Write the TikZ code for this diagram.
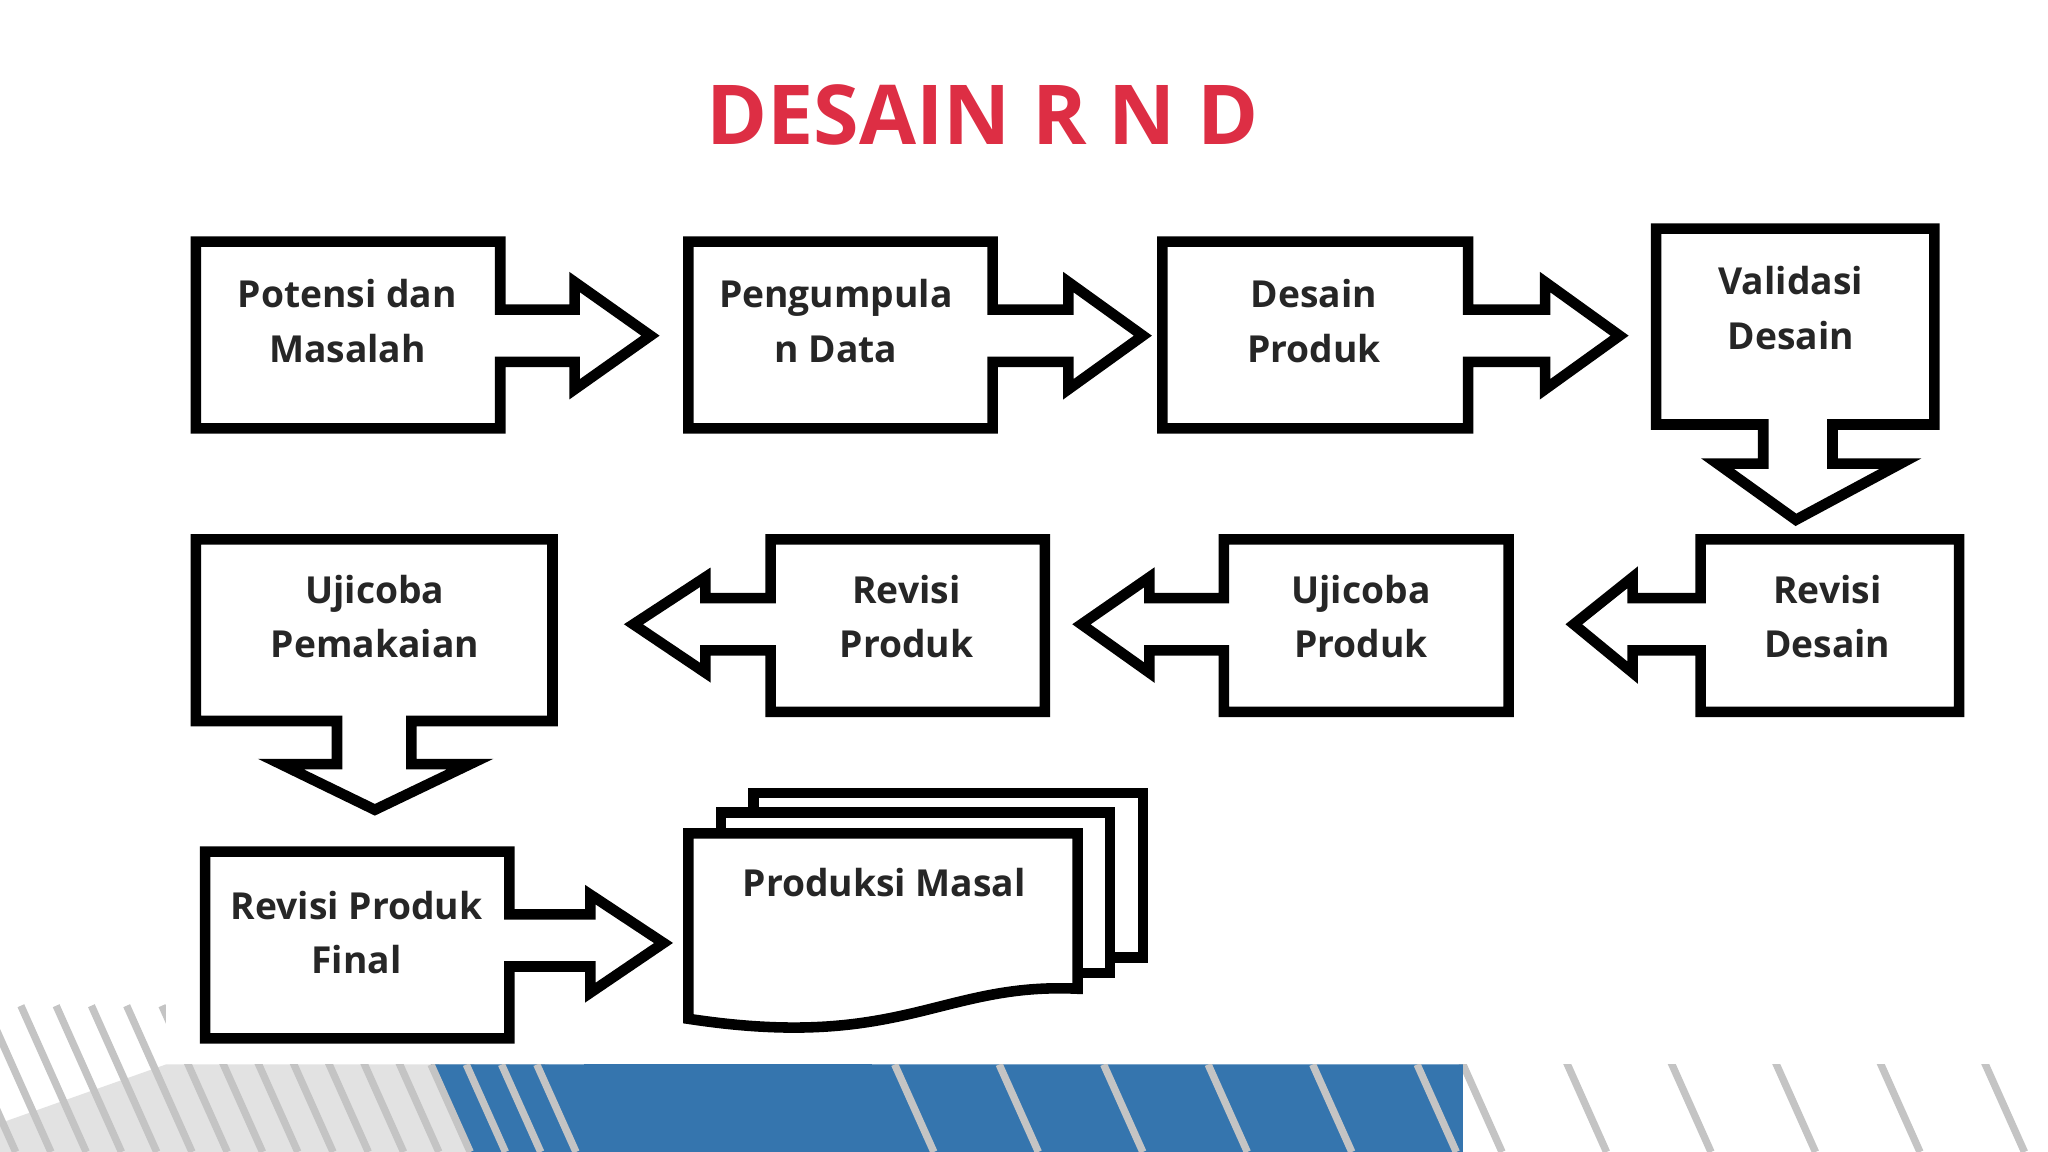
\documentclass[tikz,border=0pt]{standalone}
\usepackage{fontspec}
\setmainfont{Open Sans}
\definecolor{tred}{HTML}{DD2E44}
\definecolor{tblue}{HTML}{3575AE}
\definecolor{sgray}{HTML}{C4C4C4}
\definecolor{lgray}{HTML}{E2E2E2}
\begin{document}
\begin{tikzpicture}[x=0.01cm,y=-0.01cm,
  shp/.style={draw=black,line width=2.3pt,fill=white,line join=miter},
  lbl/.style={font=\fontsize{8.1}{11.9}\selectfont\bfseries,align=center,text=black!85},
  stripe/.style={sgray,line width=1.6pt}]
\useasboundingbox (0,0) rectangle (1568,882);
\fill[white] (0,0) rectangle (1568,882);
% bottom decoration
\fill[lgray] (127,815) -- (420,815) -- (447,882) -- (0,882) -- (0,860) -- cycle;
\foreach \x in {-200,-173,...,420} \draw[stripe] (\x,770) -- (\x+50,882);
\foreach \x in {1100,1180,...,1700} \draw[stripe] (\x,770) -- (\x+50,882);
\fill[tblue] (330,815) -- (1120,815) -- (1120,882) -- (360,882) -- cycle;
\foreach \x in {330,357,...,420} \draw[stripe] (\x,815) -- (\x+30,882);
\foreach \x in {685,765,...,1100} \draw[stripe] (\x,815) -- (\x+30,882);
\fill[tblue] (447,815) rectangle (668,882);
\fill[white] (127,765) rectangle (1524,815);
% title
\node[font=\fontsize{18}{21}\selectfont\bfseries,text=tred] (title) at (752,88) {DESAIN R N D};
% row 1
\draw[shp] (150,185)--(383,185)--(383,237)--(440,237)--(440,216)--(498,257)--(440,298)--(440,277)--(383,277)--(383,328)--(150,328)--cycle;
\draw[shp] (527,185)--(760,185)--(760,237)--(818,237)--(818,216)--(875,257)--(818,298)--(818,277)--(760,277)--(760,328)--(527,328)--cycle;
\draw[shp] (890,185)--(1124,185)--(1124,237)--(1183,237)--(1183,216)--(1240,257)--(1183,298)--(1183,277)--(1124,277)--(1124,328)--(890,328)--cycle;
\draw[shp] (1268,175)--(1481,175)--(1481,325)--(1403,325)--(1403,355)--(1455,355)--(1375,398)--(1315,355)--(1350,355)--(1350,325)--(1268,325)--cycle;
% row 2
\draw[shp] (1302,413)--(1500,413)--(1500,545)--(1302,545)--(1302,498)--(1250,498)--(1250,515)--(1205,478)--(1250,442)--(1250,458)--(1302,458)--cycle;
\draw[shp] (937,413)--(1155,413)--(1155,545)--(937,545)--(937,498)--(880,498)--(880,515)--(828,478)--(880,442)--(880,458)--(937,458)--cycle;
\draw[shp] (590,413)--(800,413)--(800,545)--(590,545)--(590,498)--(540,498)--(540,515)--(485,478)--(540,442)--(540,458)--(590,458)--cycle;
\draw[shp] (150,413)--(423,413)--(423,552)--(315,552)--(315,585)--(360,585)--(287,620)--(215,585)--(258,585)--(258,552)--(150,552)--cycle;
% row 3
\draw[shp] (157,652)--(390,652)--(390,700)--(452,700)--(452,685)--(508,722)--(452,760)--(452,740)--(390,740)--(390,795)--(157,795)--cycle;
\draw[shp] (577,607) rectangle (875,733);
\draw[shp] (552,622) rectangle (850,745);
\draw[shp] (527,638)--(825,638)--(825,757) .. controls (720,752) and (690,805) .. (527,780)--cycle;
% labels
\node[lbl] (n1) at (266,246) {Potensi dan\\Masalah};
\node[lbl] (n2) at (640,246) {Pengumpula\\n Data};
\node[lbl] (n3) at (1006,246) {Desain\\Produk};
\node[lbl] (n4) at (1371,236) {Validasi\\Desain};
\node[lbl] (n5) at (1399,472) {Revisi\\Desain};
\node[lbl] (n6) at (1042,472) {Ujicoba\\Produk};
\node[lbl] (n7) at (694,472) {Revisi\\Produk};
\node[lbl] (n8) at (287,472) {Ujicoba\\Pemakaian};
\node[lbl] (n9) at (273,714) {Revisi Produk\\Final};
\node[lbl] (n10) at (677,676) {Produksi Masal};
\end{tikzpicture}
\end{document}
